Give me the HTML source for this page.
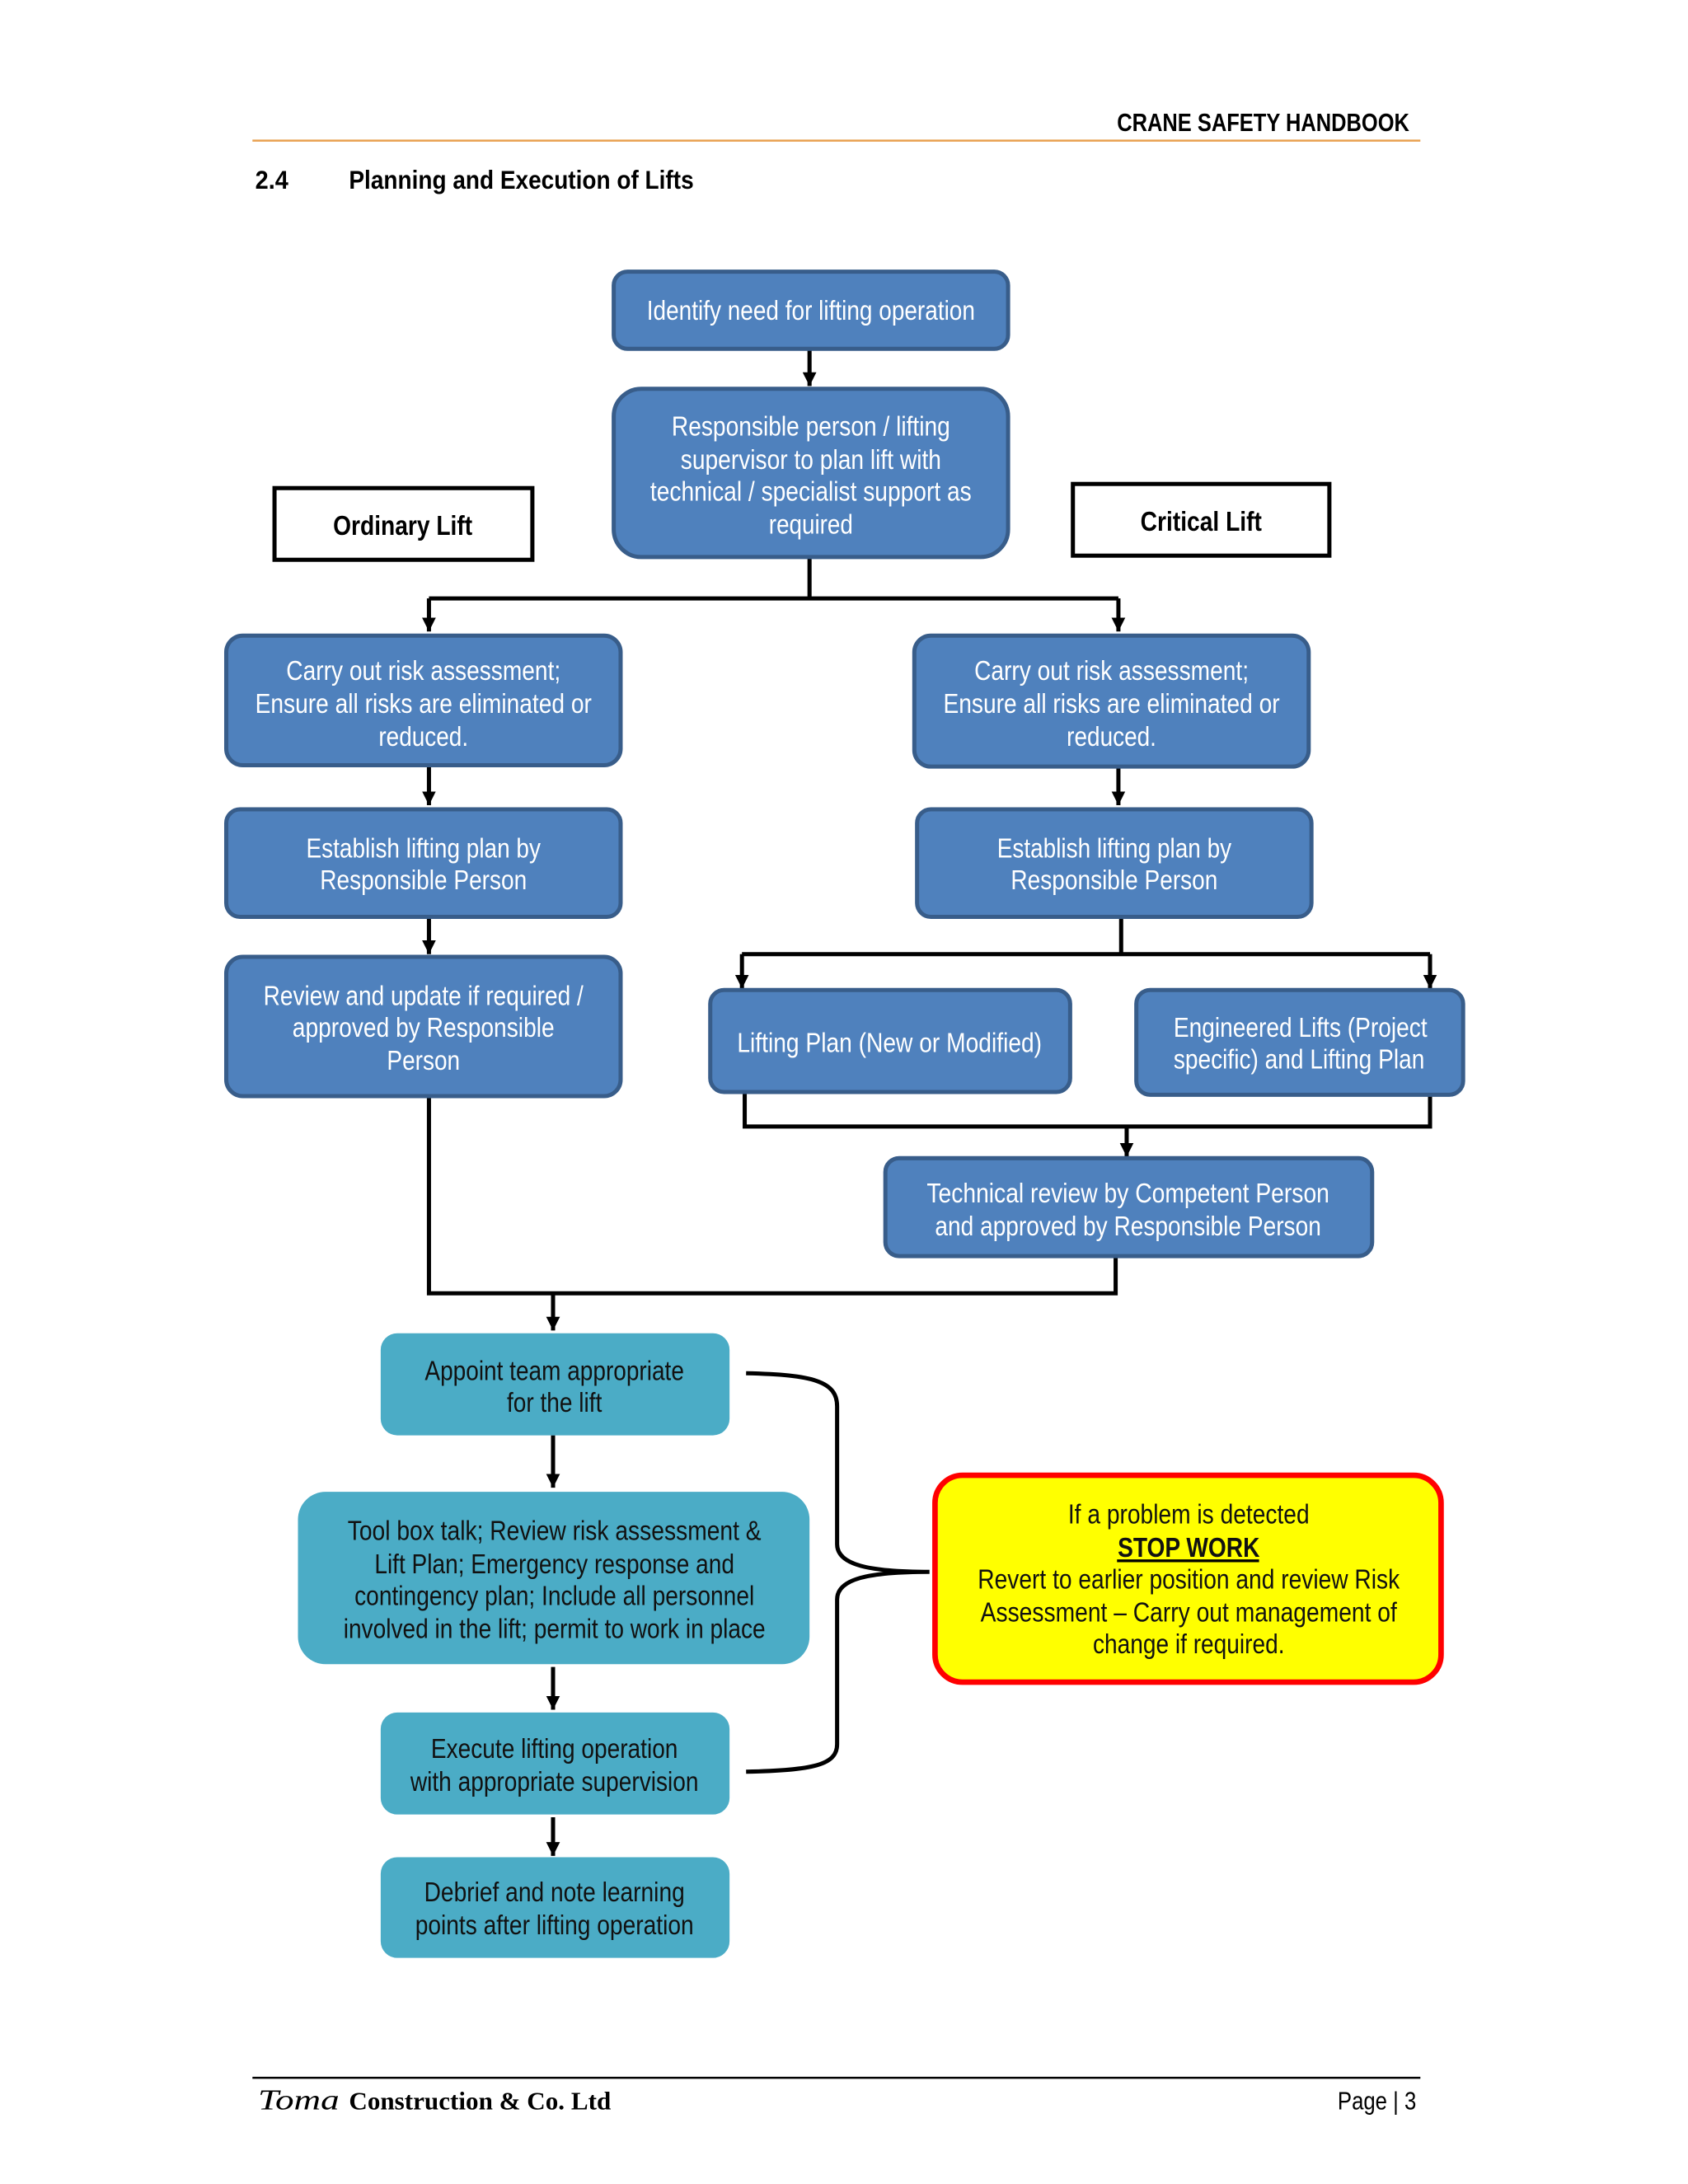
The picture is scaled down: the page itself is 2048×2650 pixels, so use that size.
<!DOCTYPE html>
<html><head><meta charset="utf-8"><style>
html,body{margin:0;padding:0;background:#fff;}
svg{display:block;}
text{font-family:"Liberation Sans Narrow","Liberation Sans",sans-serif;}
.w{fill:#fff;font-size:20px;text-anchor:middle;}
.d{fill:#111;font-size:20px;text-anchor:middle;}
.b{stroke:#385d8a;stroke-width:3;fill:#4f81bd;}
.t{fill:#4bacc6;}
.l{stroke:#000;stroke-width:3;fill:none;}
</style></head><body>
<svg width="2048" height="2650" viewBox="0 0 1224 1584" xmlns="http://www.w3.org/2000/svg">
<defs><marker id="a" markerWidth="8" markerHeight="8" refX="4" refY="7" orient="auto" markerUnits="userSpaceOnUse" viewBox="0 0 8 8"><path d="M0,0 L8,0 L4,8z" fill="#000"/></marker>
<marker id="m" markerWidth="10" markerHeight="10" refX="5" refY="10" orient="0" markerUnits="userSpaceOnUse" viewBox="0 0 10 10"><path d="M0,0 L10,0 L5,10z" fill="#000"/></marker></defs>
<text x="1022" y="95" style="font-size:18px;font-weight:bold;text-anchor:end" fill="#000" textLength="212" lengthAdjust="spacingAndGlyphs">CRANE SAFETY HANDBOOK</text>
<line x1="183" y1="102" x2="1030" y2="102" stroke="#e8a050" stroke-width="1.5"/>
<text x="185" y="137" style="font-size:19px;font-weight:bold" textLength="24" lengthAdjust="spacingAndGlyphs">2.4</text>
<text x="253" y="137" style="font-size:19px;font-weight:bold" textLength="250" lengthAdjust="spacingAndGlyphs">Planning and Execution of Lifts</text>

<g class="l">
<path d="M587,253 V280" marker-end="url(#m)"/>
<path d="M587,404 V434 M311,434 H811"/>
<path d="M311,434 V458" marker-end="url(#m)"/>
<path d="M811,434 V458" marker-end="url(#m)"/>
<path d="M311,556 V584" marker-end="url(#m)"/>
<path d="M811,556 V584" marker-end="url(#m)"/>
<path d="M311,665 V692" marker-end="url(#m)"/>
<path d="M813,665 V692 M538,692 H1037"/>
<path d="M538,692 V717" marker-end="url(#m)"/>
<path d="M1037,692 V717" marker-end="url(#m)"/>
<path d="M540,792 V817 H1037 V794"/>
<path d="M817,817 V839" marker-end="url(#m)"/>
<path d="M311,795 V938 H809 V911"/>
<path d="M401,938 V965" marker-end="url(#m)"/>
<path d="M401,1041 V1079" marker-end="url(#m)"/>
<path d="M401,1209 V1240" marker-end="url(#m)"/>
<path d="M401,1318 V1346" marker-end="url(#m)"/>
<path d="M541,996 C590,997 607,1002 607,1020 V1120 C607,1135 630,1140 674,1140 C630,1140 607,1145 607,1160 V1265 C607,1280 590,1284 541,1285"/>
</g>

<rect class="b" x="445" y="197" width="286" height="56" rx="10"/>
<text class="w" x="588" y="232" textLength="238" lengthAdjust="spacingAndGlyphs">Identify need for lifting operation</text>
<rect class="b" x="445" y="282" width="286" height="122" rx="20"/>
<text class="w" x="588" y="316" textLength="202" lengthAdjust="spacingAndGlyphs">Responsible person / lifting</text>
<text class="w" x="588" y="340" textLength="189" lengthAdjust="spacingAndGlyphs">supervisor to plan lift with</text>
<text class="w" x="588" y="363" textLength="233" lengthAdjust="spacingAndGlyphs">technical / specialist support as</text>
<text class="w" x="588" y="387" textLength="61" lengthAdjust="spacingAndGlyphs">required</text>

<rect x="199" y="354" width="187" height="52" fill="#fff" stroke="#000" stroke-width="3"/>
<text x="292" y="388" style="font-size:20px;font-weight:bold;text-anchor:middle" textLength="101" lengthAdjust="spacingAndGlyphs">Ordinary Lift</text>
<rect x="778" y="351" width="186" height="52" fill="#fff" stroke="#000" stroke-width="3"/>
<text x="871" y="385" style="font-size:20px;font-weight:bold;text-anchor:middle" textLength="88" lengthAdjust="spacingAndGlyphs">Critical Lift</text>

<rect class="b" x="164" y="461" width="286" height="94" rx="12"/>
<text class="w" x="307" y="493" textLength="199" lengthAdjust="spacingAndGlyphs">Carry out risk assessment;</text>
<text class="w" x="307" y="517" textLength="244" lengthAdjust="spacingAndGlyphs">Ensure all risks are eliminated or</text>
<text class="w" x="307" y="541" textLength="65" lengthAdjust="spacingAndGlyphs">reduced.</text>
<rect class="b" x="663" y="461" width="286" height="95" rx="12"/>
<text class="w" x="806" y="493" textLength="199" lengthAdjust="spacingAndGlyphs">Carry out risk assessment;</text>
<text class="w" x="806" y="517" textLength="244" lengthAdjust="spacingAndGlyphs">Ensure all risks are eliminated or</text>
<text class="w" x="806" y="541" textLength="65" lengthAdjust="spacingAndGlyphs">reduced.</text>

<rect class="b" x="164" y="587" width="286" height="78" rx="10"/>
<text class="w" x="307" y="622" textLength="170" lengthAdjust="spacingAndGlyphs">Establish lifting plan by</text>
<text class="w" x="307" y="645" textLength="150" lengthAdjust="spacingAndGlyphs">Responsible Person</text>
<rect class="b" x="665" y="587" width="286" height="78" rx="10"/>
<text class="w" x="808" y="622" textLength="170" lengthAdjust="spacingAndGlyphs">Establish lifting plan by</text>
<text class="w" x="808" y="645" textLength="150" lengthAdjust="spacingAndGlyphs">Responsible Person</text>

<rect class="b" x="164" y="694" width="286" height="101" rx="12"/>
<text class="w" x="307" y="729" textLength="232" lengthAdjust="spacingAndGlyphs">Review and update if required /</text>
<text class="w" x="307" y="752" textLength="190" lengthAdjust="spacingAndGlyphs">approved by Responsible</text>
<text class="w" x="307" y="776" textLength="53" lengthAdjust="spacingAndGlyphs">Person</text>

<rect class="b" x="515" y="718" width="261" height="74" rx="10"/>
<text class="w" x="645" y="763" textLength="221" lengthAdjust="spacingAndGlyphs">Lifting Plan (New or Modified)</text>
<rect class="b" x="824" y="718" width="237" height="76" rx="10"/>
<text class="w" x="943" y="752" textLength="184" lengthAdjust="spacingAndGlyphs">Engineered Lifts (Project</text>
<text class="w" x="942" y="775" textLength="182" lengthAdjust="spacingAndGlyphs">specific) and Lifting Plan</text>

<rect class="b" x="642" y="840" width="353" height="71" rx="10"/>
<text class="w" x="818" y="872" textLength="292" lengthAdjust="spacingAndGlyphs">Technical review by Competent Person</text>
<text class="w" x="818" y="896" textLength="280" lengthAdjust="spacingAndGlyphs">and approved by Responsible Person</text>

<rect class="t" x="276" y="967" width="253" height="74" rx="12"/>
<text class="d" x="402" y="1001" textLength="188" lengthAdjust="spacingAndGlyphs">Appoint team appropriate</text>
<text class="d" x="402" y="1024" textLength="69" lengthAdjust="spacingAndGlyphs">for the lift</text>
<rect class="t" x="216" y="1082" width="371" height="125" rx="20"/>
<text class="d" x="402" y="1117" textLength="300" lengthAdjust="spacingAndGlyphs">Tool box talk; Review risk assessment &amp;</text>
<text class="d" x="402" y="1141" textLength="261" lengthAdjust="spacingAndGlyphs">Lift Plan; Emergency response and</text>
<text class="d" x="402" y="1164" textLength="290" lengthAdjust="spacingAndGlyphs">contingency plan; Include all personnel</text>
<text class="d" x="402" y="1188" textLength="306" lengthAdjust="spacingAndGlyphs">involved in the lift; permit to work in place</text>
<rect class="t" x="276" y="1242" width="253" height="74" rx="12"/>
<text class="d" x="402" y="1275" textLength="179" lengthAdjust="spacingAndGlyphs">Execute lifting operation</text>
<text class="d" x="402" y="1299" textLength="209" lengthAdjust="spacingAndGlyphs">with appropriate supervision</text>
<rect class="t" x="276" y="1347" width="253" height="73" rx="12"/>
<text class="d" x="402" y="1379" textLength="189" lengthAdjust="spacingAndGlyphs">Debrief and note learning</text>
<text class="d" x="402" y="1403" textLength="202" lengthAdjust="spacingAndGlyphs">points after lifting operation</text>

<rect x="678" y="1070" width="367" height="150" rx="20" fill="#ffff00" stroke="#ff0000" stroke-width="4"/>
<text class="d" x="862" y="1105" textLength="175" lengthAdjust="spacingAndGlyphs">If a problem is detected</text>
<text class="d" x="862" y="1129" style="font-weight:bold" textLength="103" lengthAdjust="spacingAndGlyphs">STOP WORK</text>
<line x1="810" y1="1132" x2="913" y2="1132" stroke="#000" stroke-width="2"/>
<text class="d" x="862" y="1152" textLength="306" lengthAdjust="spacingAndGlyphs">Revert to earlier position and review Risk</text>
<text class="d" x="862" y="1176" textLength="302" lengthAdjust="spacingAndGlyphs">Assessment – Carry out management of</text>
<text class="d" x="862" y="1199" textLength="139" lengthAdjust="spacingAndGlyphs">change if required.</text>

<line x1="183" y1="1507" x2="1030" y2="1507" stroke="#000" stroke-width="1.5"/>
<text x="187" y="1530" style="font-family:'Liberation Serif',serif;font-style:italic;font-size:21px" textLength="59" lengthAdjust="spacingAndGlyphs">Toma</text>
<text x="253" y="1530" style="font-family:'Liberation Serif',serif;font-weight:bold;font-size:18px" textLength="190" lengthAdjust="spacingAndGlyphs">Construction &amp; Co. Ltd</text>
<text x="1027" y="1530" style="font-size:18px;text-anchor:end" textLength="57" lengthAdjust="spacingAndGlyphs">Page | 3</text>
</svg>
</body></html>
